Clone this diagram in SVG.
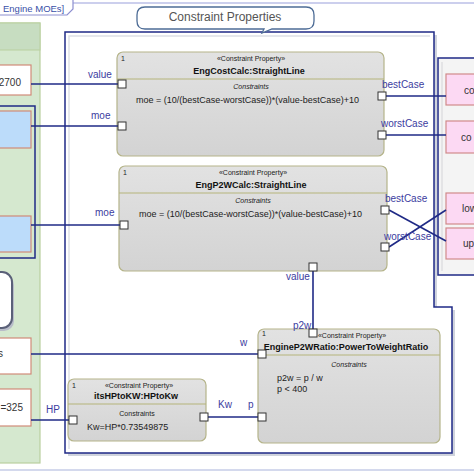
<svg xmlns="http://www.w3.org/2000/svg" width="474" height="474" viewBox="0 0 474 474">
<defs>
<linearGradient id="bg" x1="0" y1="0" x2="0" y2="1">
<stop offset="0" stop-color="#e2e2e2"/>
<stop offset="1" stop-color="#d3d3d3"/>
</linearGradient>
<style>
text{font-family:"Liberation Sans",Arial,sans-serif}
.blk{fill:url(#bg);stroke:#b5b48a;stroke-width:1.2}
.div{stroke:#b5b47a;stroke-width:1}
.port{fill:#fff;stroke:#333;stroke-width:1}
.con{stroke:#1f2a86;stroke-width:1.6;fill:none}
.lbl{font-size:10px;fill:#3c3ca0}
.one{font-size:7px;fill:#222}
.st{font-size:7px;fill:#222;text-anchor:middle}
.ttl{font-size:9px;font-weight:bold;fill:#111;text-anchor:middle}
.cs{font-size:7px;font-style:italic;fill:#222;text-anchor:middle}
.ex{font-size:9px;fill:#222}
.pink{fill:#fcd9f3;stroke:#d08a8a;stroke-width:1.2}
.wbox{fill:#fff;stroke:#d08a78;stroke-width:1.2}
.bbox{fill:#bcdcfa;stroke:#d08a78;stroke-width:1.2}
.val{font-size:10px;fill:#333}
</style>
</defs>
<rect width="474" height="474" fill="#fff"/>
<!-- top frame line and tab -->
<line x1="73" y1="3" x2="474" y2="3" stroke="#9aa0dc" stroke-width="1.2"/>
<path d="M-1,15 H67 L73,9 V0" fill="none" stroke="#8d8fd0" stroke-width="1.2"/>
<text x="3" y="12" font-size="9.5" fill="#3a50a8">Engine MOEs]</text>
<line x1="0" y1="470" x2="474" y2="470" stroke="#aab4dc" stroke-width="1.2"/>
<!-- left green panel -->
<g id="leftPanel">
<rect x="-2" y="23" width="42" height="440" fill="#d5e8cf" stroke="#b9cf9f" stroke-width="1.2"/>
<rect x="-2" y="23" width="42" height="27" fill="#c7ddc1" stroke="#b9cf9f" stroke-width="1"/>
</g>
<g id="val2700"><rect class="wbox" x="-5" y="65" width="36" height="30"/><text class="val" x="21" y="86" text-anchor="end">2700</text></g>
<g id="blueGroup"><rect x="-5" y="106" width="40" height="152" fill="none" stroke="#1f2a86" stroke-width="1.5"/></g>
<g id="boxA"><rect class="bbox" x="-5" y="111" width="36" height="37"/></g>
<g id="boxB"><rect class="bbox" x="-5" y="216" width="36" height="36"/></g>
<g id="rounded"><rect x="-18" y="275" width="32" height="56" rx="10" fill="#b8bcc8"/><rect x="-20" y="272" width="32" height="56" rx="10" fill="#fff" stroke="#5a6078" stroke-width="2"/></g>
<g id="boxS"><rect class="wbox" x="-5" y="338" width="36" height="36"/><text class="val" x="3" y="357" text-anchor="end">s</text></g>
<g id="box325"><rect class="wbox" x="-5" y="389" width="36" height="37"/><text class="val" x="23" y="411" text-anchor="end">=325</text></g>
<!-- big frame -->
<g id="frame">
<polygon points="68,35 437,35 437,310 455,310 455,456 68,456" fill="#cfd3dc"/>
<polygon points="65,32 434,32 434,307 452,307 452,453 65,453" fill="#fff" stroke="#1f2a86" stroke-width="1.5"/>
<polyline points="69,449 69,36 430,36" fill="none" stroke="#dde0e6" stroke-width="1.5"/>
</g>
<!-- callout -->
<g id="callout">
<path d="M145,7 H306 Q314,7 314,15 V21 Q314,29 306,29 H272 L262,33 L264,29 H145 Q137,29 137,21 V15 Q137,7 145,7 Z" fill="#fff" stroke="#4d6c96" stroke-width="1.3"/>
<text x="225" y="21" font-size="12" fill="#555" text-anchor="middle">Constraint Properties</text>
</g>
<!-- right box -->
<g id="rightBox">
<rect x="438" y="58" width="40" height="217" fill="#f4f4f4" stroke="#1f2a86" stroke-width="1.5"/>
<line x1="442" y1="62" x2="442" y2="271" stroke="#d4d4d8" stroke-width="1"/>
</g>
<g id="co1"><rect class="pink" x="446" y="74" width="40" height="31"/><text class="val" x="464" y="94">co</text></g>
<g id="co2"><rect class="pink" x="446" y="121" width="40" height="32"/><text class="val" x="461" y="141">co</text></g>
<g id="low"><rect class="pink" x="446" y="193" width="40" height="31"/><text class="val" x="462" y="212">low</text></g>
<g id="up"><rect class="pink" x="446" y="228" width="40" height="31"/><text class="val" x="463" y="247">up</text></g>
<!-- blocks -->
<g id="EngCostCalc">
<rect class="blk" x="117" y="52" width="267" height="104" rx="6"/>
<line class="div" x1="117" y1="79" x2="384" y2="79"/>
<text class="one" x="121" y="61">1</text>
<text class="st" x="251" y="61">«Constraint Property»</text>
<text class="ttl" x="249" y="74">EngCostCalc:StraightLine</text>
<text class="cs" x="251" y="89">Constraints</text>
<text class="ex" x="136" y="103">moe = (10/(bestCase-worstCase))*(value-bestCase)+10</text>
</g>
<g id="EngP2WCalc">
<rect class="blk" x="119" y="166" width="268" height="105" rx="6"/>
<line class="div" x1="119" y1="193" x2="387" y2="193"/>
<text class="one" x="123" y="175">1</text>
<text class="st" x="253" y="175">«Constraint Property»</text>
<text class="ttl" x="251" y="188">EngP2WCalc:StraightLine</text>
<text class="cs" x="253" y="203">Constraints</text>
<text class="ex" x="139" y="217">moe = (10/(bestCase-worstCase))*(value-bestCase)+10</text>
</g>
<g id="EngineP2WRatio">
<rect class="blk" x="258" y="329" width="182" height="114" rx="6"/>
<line class="div" x1="258" y1="355" x2="440" y2="355"/>
<text class="one" x="262" y="336">1</text>
<text class="st" x="352" y="338">«Constraint Property»</text>
<text class="ttl" x="346" y="350">EngineP2WRatio:PowerToWeightRatio</text>
<text class="cs" x="349" y="367">Constraints</text>
<text class="ex" x="277" y="381" font-size="9.5">p2w = p / w</text>
<text class="ex" x="277" y="392" font-size="9.5">p &lt; 400</text>
</g>
<g id="itsHPtoKW">
<rect class="blk" x="68" y="379" width="138" height="62" rx="6"/>
<line class="div" x1="68" y1="404" x2="206" y2="404"/>
<text class="one" x="72" y="388">1</text>
<text class="st" x="139" y="388">«Constraint Property»</text>
<text class="ttl" x="136" y="399">itsHPtoKW:HPtoKw</text>
<text class="st" x="137" y="416" font-size="7.5">Constraints</text>
<text class="ex" x="87" y="430" font-size="9.5">Kw=HP*0.73549875</text>
</g>
<!-- connectors -->
<g id="connectors">
<path class="con" d="M31,84 H118"/>
<path class="con" d="M31,126 H118"/>
<path class="con" d="M31,225 H120"/>
<path class="con" d="M386,96 H446"/>
<path class="con" d="M386,135 H446"/>
<path class="con" d="M389,210 L446,241"/>
<path class="con" d="M389,247 L446,210"/>
<path class="con" d="M313,271 V329"/>
<path class="con" d="M31,354 H258"/>
<path class="con" d="M31,420 H69"/>
<path class="con" d="M208,417 H258"/>
</g>
<!-- ports -->
<g id="ports">
<rect class="port" x="118" y="80" width="8" height="8"/>
<rect class="port" x="118" y="122" width="8" height="8"/>
<rect class="port" x="378" y="92" width="8" height="8"/>
<rect class="port" x="378" y="131" width="8" height="8"/>
<rect class="port" x="120" y="221" width="8" height="8"/>
<rect class="port" x="381" y="206" width="8" height="8"/>
<rect class="port" x="381" y="243" width="8" height="8"/>
<rect class="port" x="309" y="263" width="8" height="8"/>
<rect class="port" x="309" y="329" width="8" height="8"/>
<rect class="port" x="258" y="350" width="8" height="8"/>
<rect class="port" x="258" y="413" width="8" height="8"/>
<rect class="port" x="69" y="416" width="8" height="8"/>
<rect class="port" x="200" y="413" width="8" height="8"/>
</g>
<g id="labels">
<text class="lbl" x="88" y="78">value</text>
<text class="lbl" x="91" y="119">moe</text>
<text class="lbl" x="95" y="216">moe</text>
<text class="lbl" x="382" y="88">bestCase</text>
<text class="lbl" x="381" y="127">worstCase</text>
<text class="lbl" x="385" y="202">bestCase</text>
<text class="lbl" x="384" y="240">worstCase</text>
<text class="lbl" x="286" y="280">value</text>
<text class="lbl" x="293" y="329">p2w</text>
<text class="lbl" x="240" y="346">w</text>
<text class="lbl" x="248" y="408">p</text>
<text class="lbl" x="218" y="408">Kw</text>
<text class="lbl" x="46" y="413">HP</text>
</g>
</svg>
